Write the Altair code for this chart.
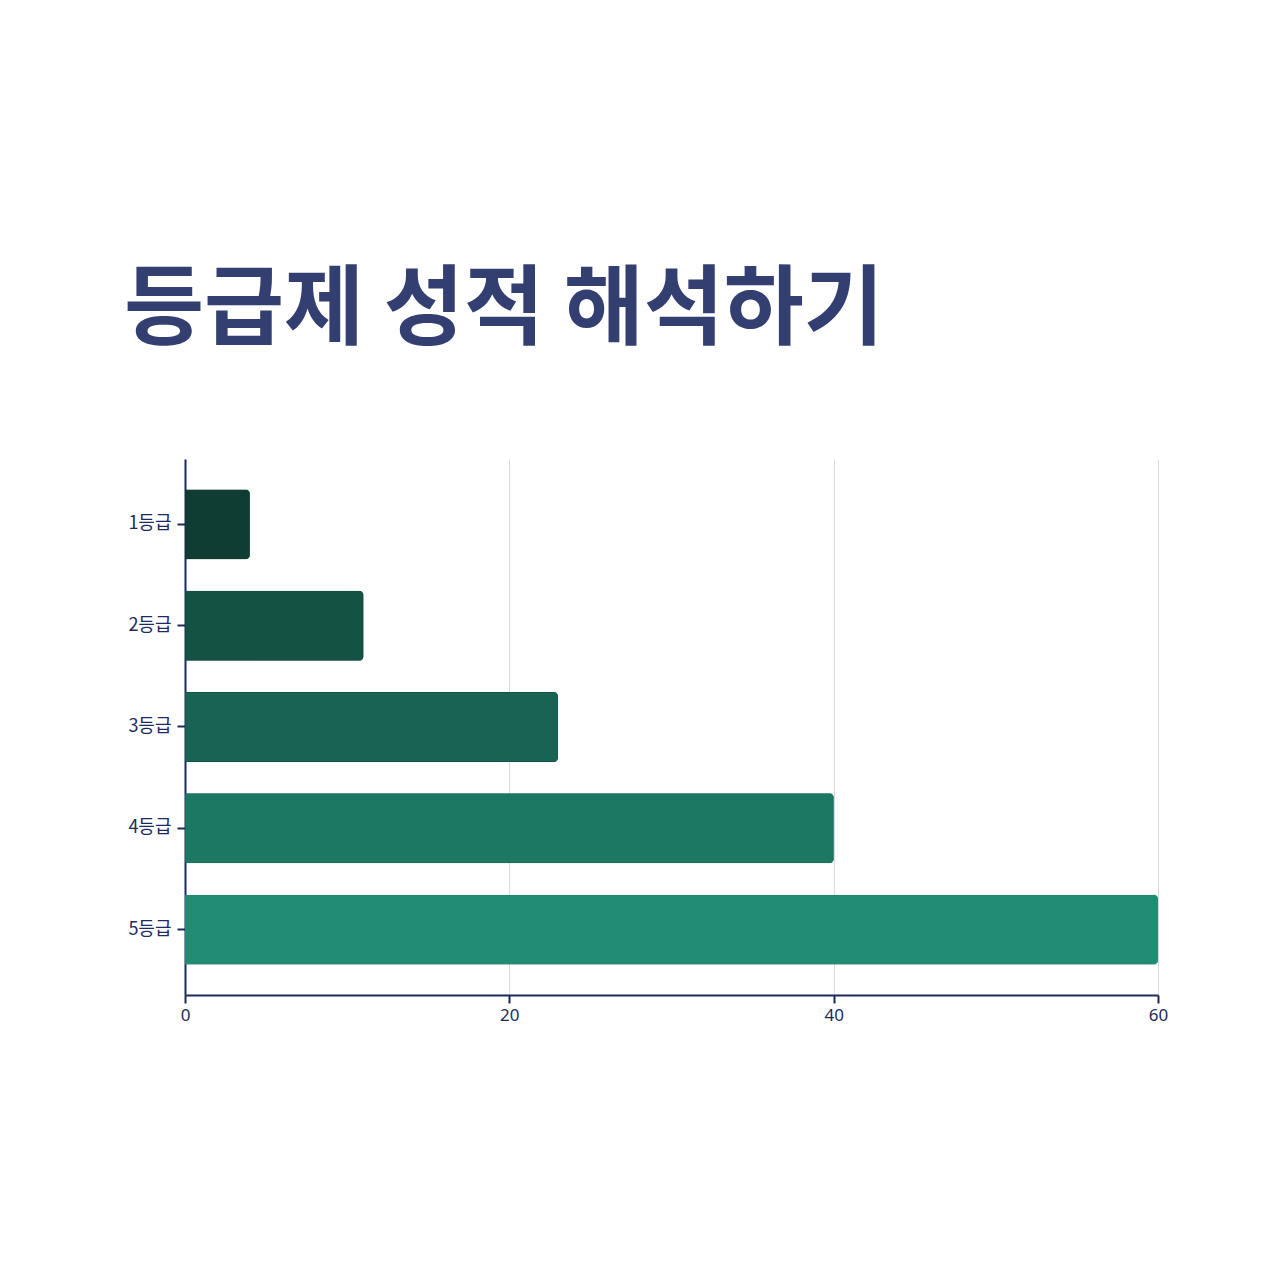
import altair as alt
import pandas as pd

grades = ["1등급", "2등급", "3등급", "4등급", "5등급"]
values = [4, 11, 23, 40, 60]
fills = ["#103d33", "#145244", "#186353", "#1c7862", "#218b73"]
strokes = ["#0a2e26", "#0d3f34", "#104c40", "#13604e", "#218b73"]

df = pd.DataFrame({"grade": grades, "value": values, "fill": fills, "stroke": strokes})

navy = "#1c2a5e"

chart = alt.Chart(df).mark_bar(
    cornerRadiusEnd=4, strokeWidth=1
).encode(
    x=alt.X("value:Q", scale=alt.Scale(domain=[0, 60], nice=False),
            axis=alt.Axis(values=[0, 20, 40, 60], title=None, grid=True,
                          gridColor="#d6d9e6", gridWidth=1,
                          domainColor=navy, domainWidth=2,
                          tickColor=navy, tickWidth=2, tickSize=8,
                          labelColor=navy, labelFontSize=17, labelPadding=4,
                          labelFlush=False,
                          labelFont="Noto Sans")),
    y=alt.Y("grade:N", sort=grades,
            scale=alt.Scale(paddingInner=0.31, paddingOuter=0.3),
            axis=alt.Axis(title=None, domainColor=navy, domainWidth=2,
                          tickColor=navy, tickWidth=2, tickSize=8,
                          labelColor=navy, labelFontSize=18, labelPadding=6,
                          labelFont="Noto Sans CJK KR")),
    color=alt.Color("fill:N", scale=None, legend=None),
    stroke=alt.Stroke("stroke:N", scale=None, legend=None),
).properties(
    width=973, height=536,
    background="white",
    autosize=alt.AutoSizeParams(type="none"),
    padding={"left": 177, "top": 451, "right": 100, "bottom": 100},
    title=alt.TitleParams(
        "등급제 성적 해석하기", anchor="start", frame="group",
        font="Noto Sans CJK KR", fontSize=87, fontWeight="bold",
        color="#333f70", baseline="alphabetic", offset=34, dx=-61,
    ),
).configure_view(stroke=None)

chart.save("out.html", embed_options={"renderer": "svg", "actions": False})
